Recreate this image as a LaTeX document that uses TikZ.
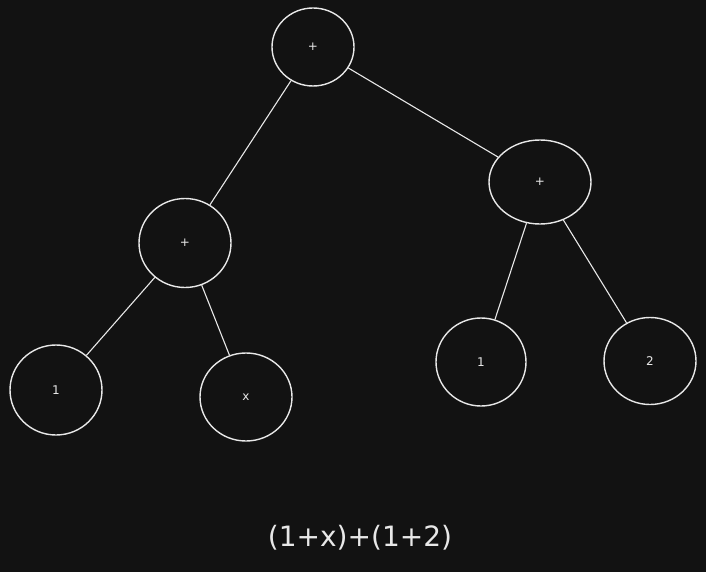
\documentclass[tikz,border=0pt]{standalone}
\usepackage{fontspec}
\setmainfont{DejaVu Sans}
\usetikzlibrary{shapes.geometric}
\definecolor{bg}{HTML}{121212}
\definecolor{ink}{HTML}{E8E8E8}
\tikzset{
  tnode/.style={ellipse, draw=ink, line width=1.4pt, text=ink, inner sep=0pt, font=\fontsize{12}{14}\selectfont},
  edge/.style={draw=ink, line width=1.1pt},
}
\begin{document}
\begin{tikzpicture}[x=1pt,y=-1pt]
\fill[bg] (0,0) rectangle (706,572);
\useasboundingbox (0,0) rectangle (706,572);
\node[tnode, minimum width=82pt, minimum height=78pt] (root) at (313,47) {+};
\node[tnode, minimum width=92pt, minimum height=89pt] (lp) at (185,243) {+};
\node[tnode, minimum width=102pt, minimum height=84pt] (rp) at (540,182) {+};
\node[tnode, minimum width=92pt, minimum height=90pt] (l1) at (56,390) {1};
\node[tnode, minimum width=92pt, minimum height=88pt] (lx) at (246,397) {x};
\node[tnode, minimum width=90pt, minimum height=88pt] (r1) at (481,362) {1};
\node[tnode, minimum width=92pt, minimum height=87pt] (r2) at (650,361) {2};
\draw[edge] (root) -- (lp);
\draw[edge] (root) -- (rp);
\draw[edge] (lp) -- (l1);
\draw[edge] (lp) -- (lx);
\draw[edge] (rp) -- (r1);
\draw[edge] (rp) -- (r2);
\node[text=ink, font=\fontsize{28}{32}\selectfont] (expr) at (360,538) {(1+x)+(1+2)};
\end{tikzpicture}
\end{document}
